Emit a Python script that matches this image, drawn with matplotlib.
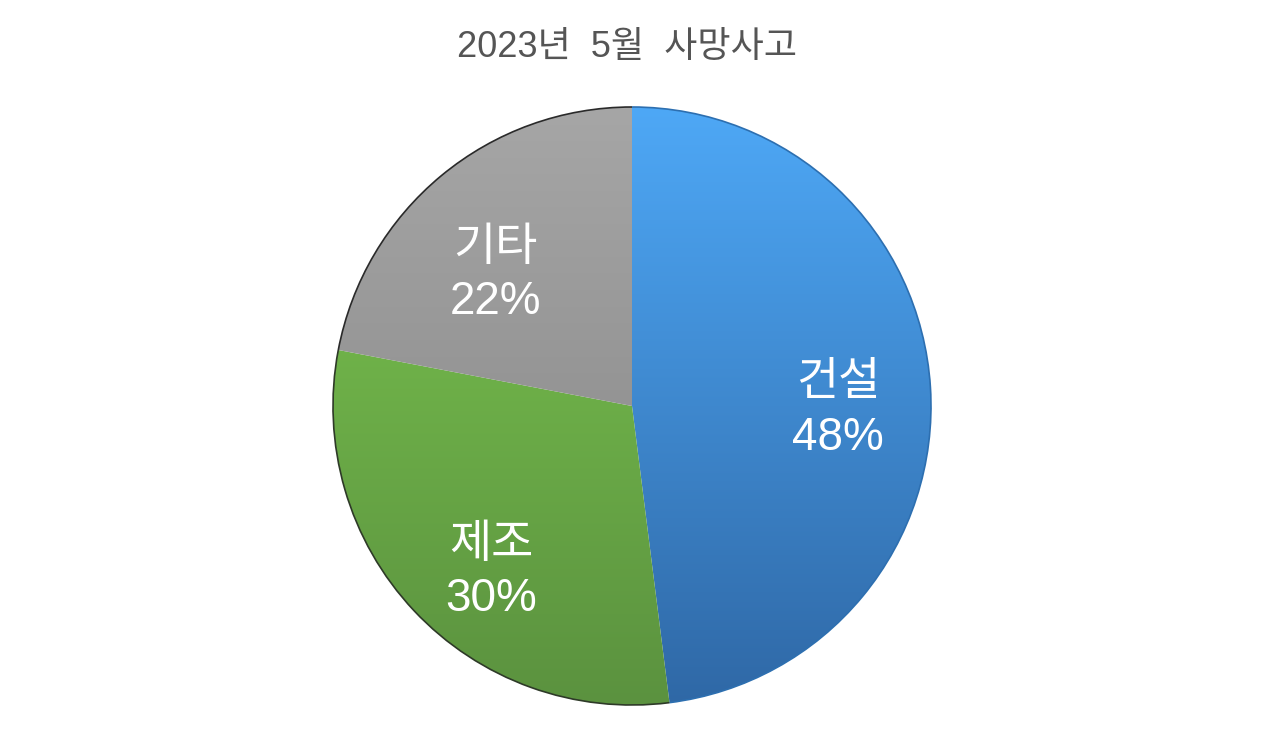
import numpy as np
import matplotlib.pyplot as plt
from matplotlib.colors import LinearSegmentedColormap
from matplotlib.patches import Arc

plt.rcParams['font.family'] = ['Liberation Sans', 'Noto Sans CJK KR', 'DejaVu Sans']

title = '2023년 5월 사망사고'
labels = ['건설', '제조', '기타']
values = [48, 30, 22]
top_colors = ['#4ea8f6', '#7cc750', '#a6a6a6']
bottom_colors = ['#2f68a6', '#5b923f', '#828282']
rim_colors = ['#2d6fb0', '#2e3a28', '#2a2a2a']

fig = plt.figure(figsize=(12.8, 7.5), dpi=100)
ax = fig.add_axes([0, 0, 1, 1])

cx, cy, r = 632, 344, 299
wedges, _ = ax.pie(values, startangle=90, counterclock=False,
                   center=(cx, cy), radius=r, frame=True,
                   wedgeprops=dict(linewidth=0))
ax.set_xlim(0, 1280)
ax.set_ylim(0, 750)
ax.set_aspect('equal')
ax.axis('off')

grad = np.linspace(1, 0, 256).reshape(-1, 1)
for w, c1, c2, rc in zip(wedges, top_colors, bottom_colors, rim_colors):
    cmap = LinearSegmentedColormap.from_list('g', [c2, c1])
    w.set_facecolor('none')
    im = ax.imshow(grad, cmap=cmap, aspect='auto',
                   extent=(cx - r, cx + r, cy - r, cy + r),
                   origin='upper', zorder=1)
    im.set_clip_path(w)
    ax.add_patch(Arc((cx, cy), 2 * r, 2 * r, theta1=w.theta1, theta2=w.theta2,
                     color=rc, linewidth=1.2, zorder=3))

# labels inside slices
dist = [0.69, 0.72, 0.64]
shift = [-4, 6, 6]
start = 90
for lab, v, d, s in zip(labels, values, dist, shift):
    mid = np.deg2rad(start - v / 2 * 3.6 + s)
    start -= v * 3.6
    x = cx + d * r * np.cos(mid)
    y = cy + d * r * np.sin(mid) - 3
    ax.text(x, y, f'{lab}\n{v}%', color='white', fontsize=33,
            ha='center', va='center', linespacing=1.3, zorder=4)

ax.text(627, 703, title.replace(' ', '  '), color='#555555', fontsize=26,
        ha='center', va='center')

fig.savefig('out.png', dpi=100)
